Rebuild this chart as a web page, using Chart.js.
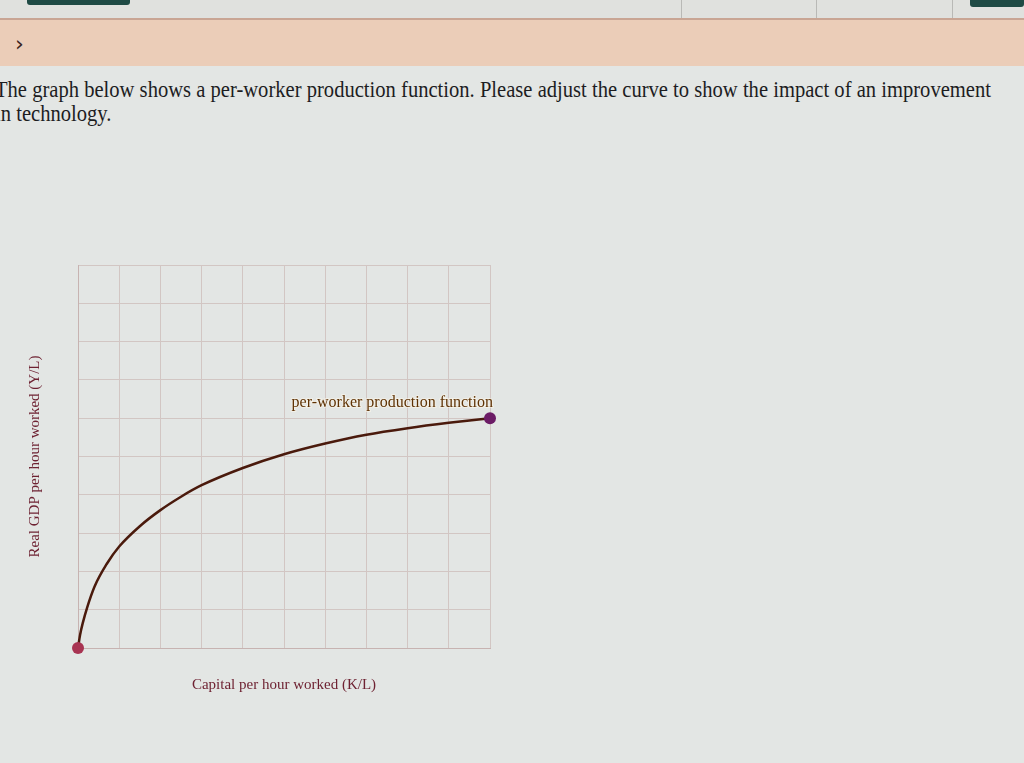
<!DOCTYPE html>
<html>
<head>
<meta charset="utf-8">
<script src="https://cdn.jsdelivr.net/npm/chart.js@4.4.1/dist/chart.umd.min.js"></script>
<style>
  html, body { margin: 0; padding: 0; }
  body {
    width: 1024px; height: 763px; overflow: hidden; position: relative;
    background: #e3e6e4;
    font-family: "Liberation Serif", "DejaVu Serif", serif;
  }
  .topbar { position: absolute; left: 0; top: 0; width: 1024px; height: 18px; background: #e0e1de; border-bottom: 2px solid #c9a594; }
  .topbar .sep { position: absolute; top: 0; width: 1px; height: 18px; background: #b9b9b6; }
  .btn { position: absolute; top: 0; height: 5px; background: #1f4a44; border-radius: 0 0 3px 3px; }
  .band { position: absolute; left: 0; top: 20px; width: 1024px; height: 46px; background: #ebcdb8; }
  .chev { position: absolute; left: 15px; top: 12px; font-size: 22px; line-height: 24px; color: #3a2420; font-family: "DejaVu Sans", sans-serif; }
  .question {
    position: absolute; left: -5px; top: 78px; width: 1120px;
    font-size: 23px; line-height: 24px; color: #1d1d1f;
    transform-origin: 0 0; transform: scaleX(0.895);
  }
  #wrap { position: absolute; left: 0; top: 250px; width: 520px; height: 470px; }
</style>
</head>
<body>
<div class="topbar">
  <div class="btn" style="left:27px;width:103px"></div>
  <div class="sep" style="left:681px"></div>
  <div class="sep" style="left:816px"></div>
  <div class="sep" style="left:952px"></div>
  <div class="btn" style="left:970px;width:54px;height:7px"></div>
</div>
<div class="band"><span class="chev">&#8250;</span></div>
<div class="question">The graph below shows a per-worker production function. Please adjust the curve to show the impact of an improvement<br>in technology.</div>
<div id="wrap"><canvas id="myChart" width="520" height="470"></canvas></div>
<script>
// curve (grid units)
const capital = [0, 0.05, 0.12, 0.22, 0.4, 0.7, 1, 1.5, 2, 2.5, 3, 4, 5, 6, 7, 8, 9, 10];
const output = [0, 0.34, 0.67, 1.05, 1.6, 2.2, 2.65, 3.18, 3.6, 3.95, 4.25, 4.7, 5.06, 5.34, 5.57, 5.74, 5.88, 6];
const curveLabel = "per-worker production function";
const xTitle = "Capital per hour worked (K/L)";
const yTitle = "Real GDP per hour worked (Y/L)";

let points = capital.map(function (x, i) {
  return { x: x, y: output[i] };
});
let last = points.length - 1;
let radii = points.map(function (p, i) {
  return i === 0 || i === last ? 6 : 0;
});
let dotColors = points.map(function (p, i) {
  return i === 0 ? "#a83452" : "#6c1c66";
});

// label next to the end point
const curveLabelPlugin = {
  id: "curveLabel",
  afterDatasetsDraw(chart) {
    let meta = chart.getDatasetMeta(0);
    let end = meta.data[last];
    let ctx = chart.ctx;
    ctx.save();
    ctx.font = "16px 'Liberation Serif', serif";
    ctx.textAlign = "right";
    ctx.textBaseline = "alphabetic";
    ctx.lineWidth = 2;
    ctx.strokeStyle = "rgba(255,250,235,0.5)";
    ctx.strokeText(curveLabel, end.x + 3, end.y - 11);
    ctx.fillStyle = "#5e3204";
    ctx.fillText(curveLabel, end.x + 3, end.y - 11);
    ctx.restore();
  },
};

let ctx = document.getElementById("myChart").getContext("2d");
let chart = new Chart(ctx, {
  type: "line",
  data: {
    datasets: [
      {
        label: curveLabel,
        data: points,
        borderColor: "#4a1a0c",
        borderWidth: 2.5,
        cubicInterpolationMode: "monotone",
        pointRadius: radii,
        pointBackgroundColor: dotColors,
        pointBorderColor: dotColors,
        pointBorderWidth: 0,
        fill: false,
        clip: false,
      },
    ],
  },
  options: {
    responsive: false,
    animation: false,
    devicePixelRatio: 1,
    layout: { padding: { left: 26, top: 15, right: 30, bottom: 0 } },
    plugins: { legend: { display: false }, tooltip: { enabled: false } },
    scales: {
      x: {
        type: "linear",
        position: "bottom",
        min: 0,
        max: 10,
        ticks: { display: false, stepSize: 1 },
        grid: { color: "#d2c6c3", lineWidth: 1, drawTicks: false },
        border: { color: "#c7b3b1" },
        title: {
          display: true,
          text: xTitle,
          color: "#6e2232",
          font: { family: "'Liberation Serif', serif", size: 15 },
          padding: { top: 28, bottom: 26 },
        },
      },
      y: {
        type: "linear",
        position: "left",
        min: 0,
        max: 10,
        ticks: { display: false, stepSize: 1 },
        grid: { color: "#d2c6c3", lineWidth: 1, drawTicks: false },
        border: { color: "#c7b3b1" },
        title: {
          display: true,
          text: yTitle,
          color: "#6e2232",
          font: { family: "'Liberation Serif', serif", size: 15 },
          padding: { top: 0, bottom: 34 },
        },
      },
    },
  },
  plugins: [curveLabelPlugin],
});
</script>
</body>
</html>
